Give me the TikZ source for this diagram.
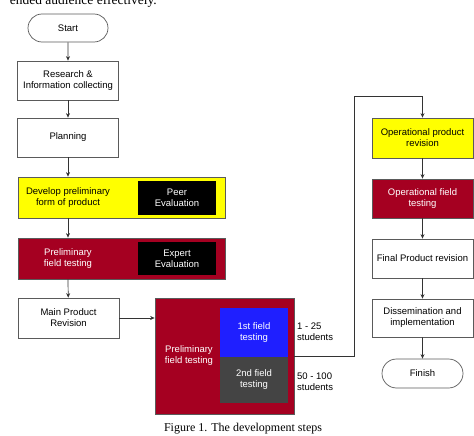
\documentclass[tikz,border=0pt]{standalone}
\usepackage{fontspec}
\setmainfont{Liberation Sans}
\newfontfamily\capfont{Liberation Serif}
\usetikzlibrary{shapes.misc,arrows.meta}
\definecolor{dred}{HTML}{A50021}
\definecolor{pyellow}{HTML}{FFFF00}
\definecolor{pblue}{HTML}{1F1FFF}
\definecolor{dgray}{HTML}{444444}
\definecolor{bordergray}{HTML}{5A5A5A}
\definecolor{linegray}{HTML}{333333}
\begin{document}
\begin{tikzpicture}[x=1pt,y=-1pt,
  font=\fontsize{9.5}{11}\selectfont,
  box/.style={draw=bordergray, line width=0.7pt, align=center, inner sep=0pt,
    minimum width=101pt, minimum height=39pt, fill=white},
  wide/.style={box, minimum width=207pt, minimum height=41pt},
  inner/.style={align=center, inner sep=0pt, text=white},
  term/.style={draw=bordergray, line width=0.7pt, rounded rectangle, inner sep=0pt,
    minimum width=80pt, minimum height=28pt, fill=white},
  plain/.style={align=center, inner sep=0pt},
  arr/.style={draw=linegray, line width=0.7pt, -{Stealth[length=4.5pt,width=4pt]}},
  ln/.style={draw=linegray, line width=0.7pt}]
\useasboundingbox (0,0) rectangle (474,436);
\node[anchor=base east, inner sep=0pt, font=\capfont\fontsize{13.5}{14}\selectfont] (toptext) at (157,5) {ended audience effectively.};

% left column
\node[term] (start) at (68,28) {Start};
\node[box] (research) at (68,80.5) {Research \&\\Information collecting};
\node[box] (planning) at (68,137.5) {Planning};
\node[wide, fill=pyellow] (dev) at (121.5,197.5) {};
\node[plain] (devtext) at (68,197.5) {Develop preliminary\\form of product};
\node[inner, fill=black, minimum width=78pt, minimum height=34pt] (peer) at (177,198) {Peer\\Evaluation};
\node[wide, fill=dred] (pft) at (121.5,258.5) {};
\node[plain, text=white] (pfttext) at (68,258.5) {Preliminary\\field testing};
\node[inner, fill=black, minimum width=78pt, minimum height=33pt] (expert) at (177,258.5) {Expert\\Evaluation};
\node[box, minimum height=40pt] (main) at (68.5,318) {Main Product\\Revision};

% big preliminary field testing
\node[box, fill=dred, minimum width=139pt, minimum height=116pt] (big) at (224.5,356) {};
\node[plain, text=white] (bigtext) at (189,356) {Preliminary\\field testing};
\node[inner, fill=pblue, minimum width=68pt, minimum height=49pt] (first) at (254,332.5) {1st field\\testing};
\node[inner, fill=dgray, minimum width=68pt, minimum height=46pt] (second) at (254,380) {2nd field\\testing};
\node[plain, align=left, anchor=west] (lab1) at (297,332) {1 - 25\\students};
\node[plain, align=left, anchor=west] (lab2) at (297,382) {50 - 100\\students};

% right column
\node[box, fill=pyellow, minimum height=40pt] (opr) at (422.5,138) {Operational product\\revision};
\node[box, fill=dred, text=white] (ofr) at (422.5,198.5) {Operational field\\testing};
\node[box] (fpr) at (422.5,258.5) {Final Product revision};
\node[box, minimum height=38pt] (dis) at (422.5,318) {Dissemination and\\implementation};
\node[term, minimum width=81pt, minimum height=29pt] (finish) at (422.5,373.5) {Finish};

% connectors
\draw[arr] (start) -- (research);
\draw[arr] (research) -- (planning);
\draw[arr] (planning) -- (planning |- dev.north);
\draw[arr] (dev.south -| devtext) -- (pft.north -| devtext);
\draw[arr] (pft.south -| pfttext) -- (main);
\draw[arr] (main) -- (big.west |- main);
\coordinate (c1) at (354,356);
\coordinate (c2) at (354,96);
\coordinate (c3) at (422.5,96);
\draw[ln] (big.east) -- (c1) -- (c2) -- (c3);
\draw[arr] (c3) -- (opr);
\draw[arr] (opr) -- (ofr);
\draw[arr] (ofr) -- (fpr);
\draw[arr] (fpr) -- (dis);
\draw[arr] (dis) -- (finish);

\node[font=\capfont\fontsize{12}{12}\selectfont, inner sep=0pt] (cap) at (243,429) {Figure 1. The development steps};
\end{tikzpicture}
\end{document}
